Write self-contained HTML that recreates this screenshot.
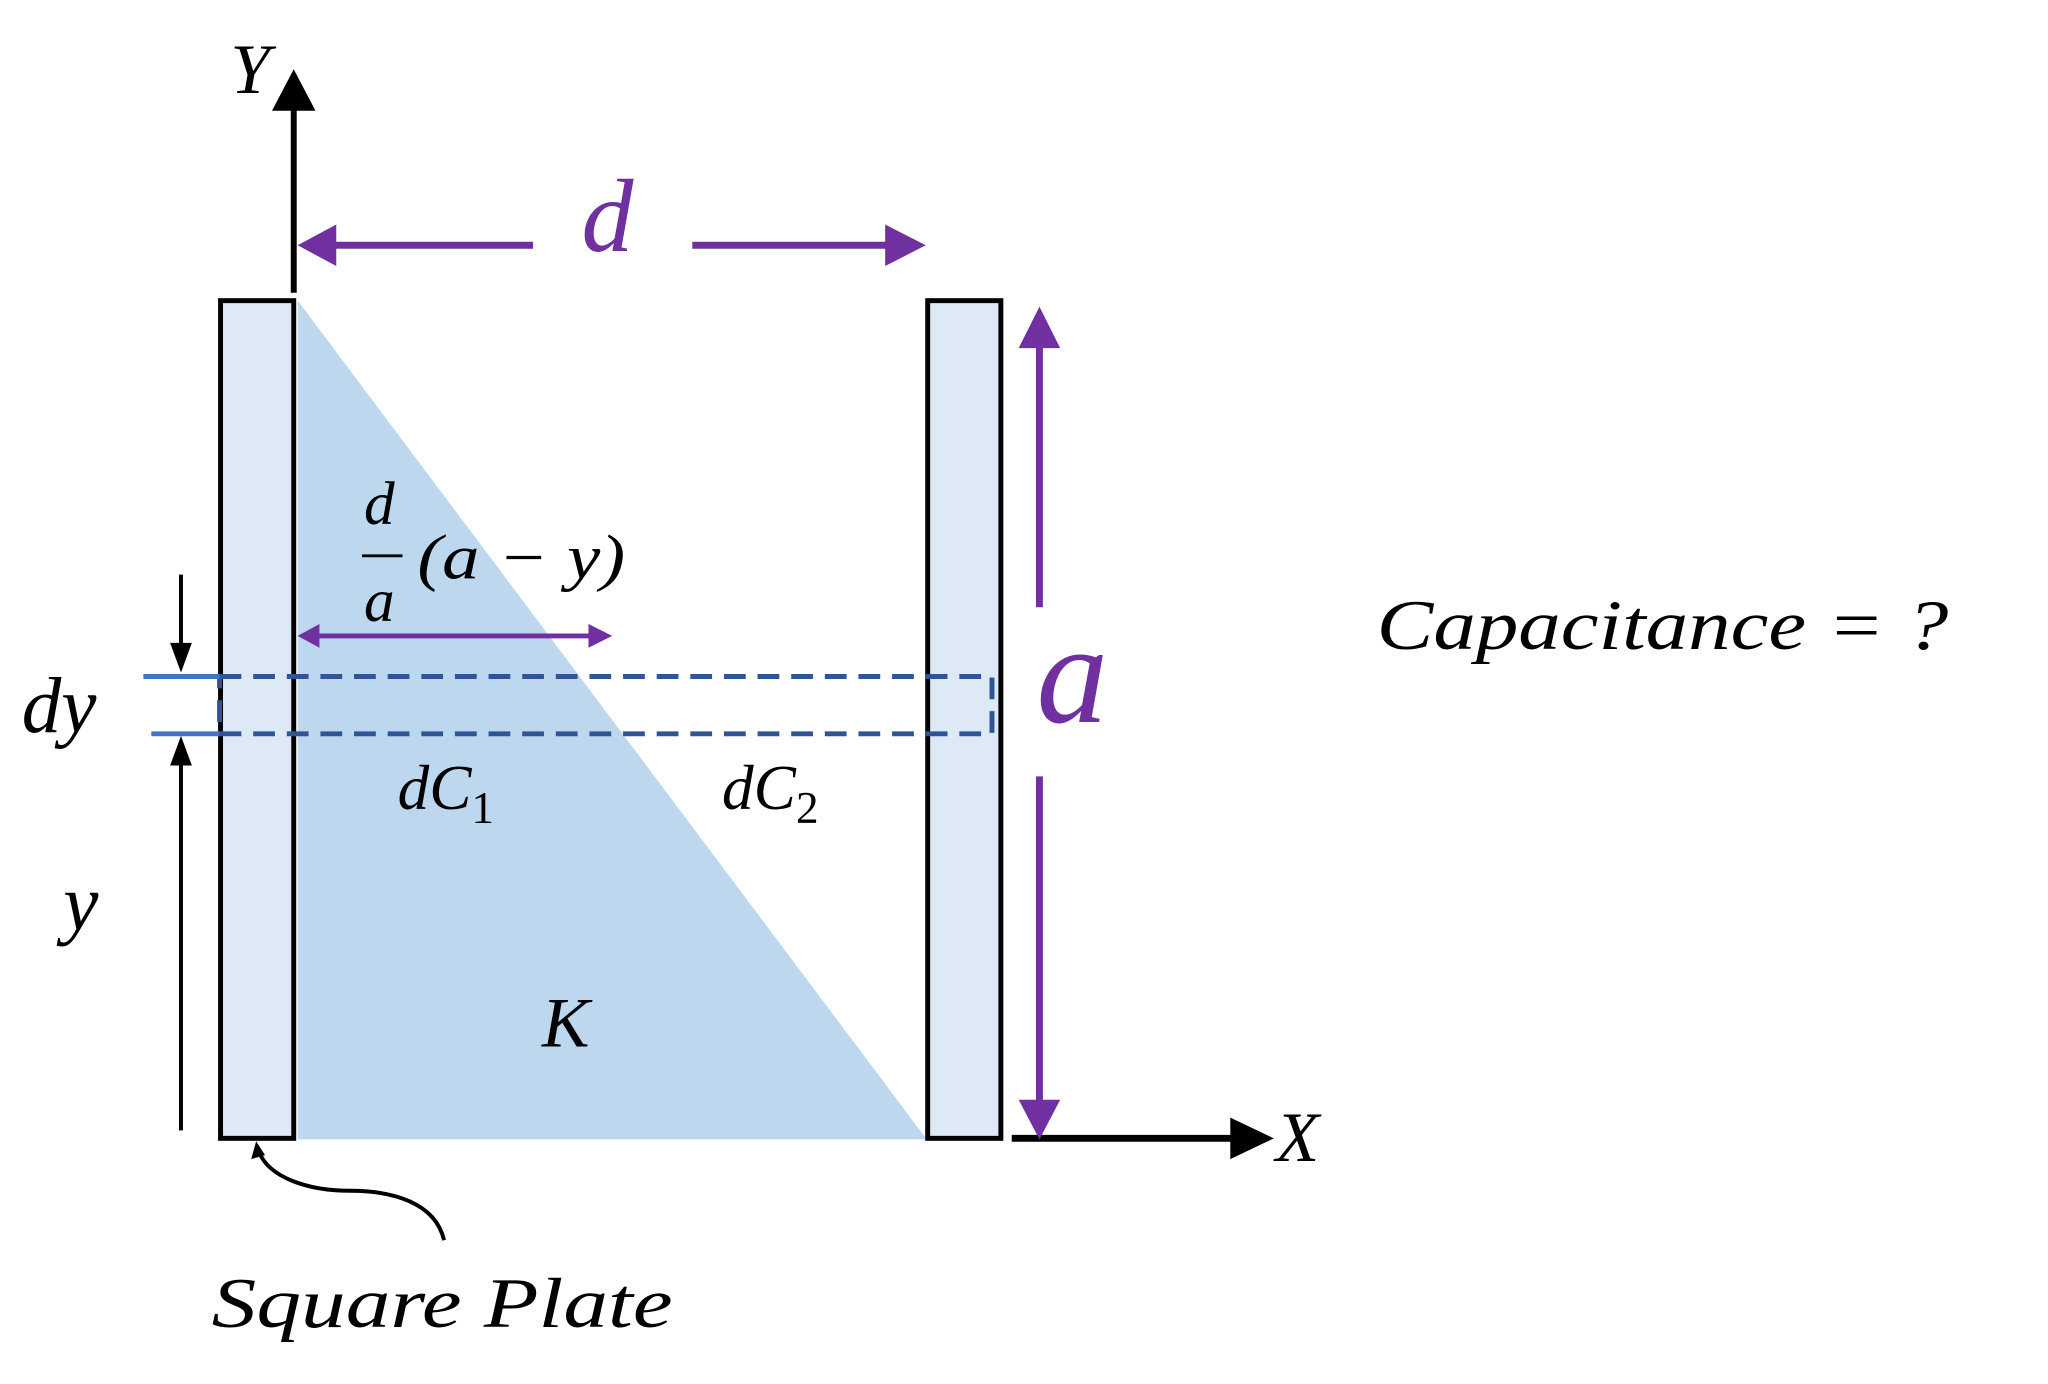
<!DOCTYPE html>
<html><head><meta charset="utf-8"><style>
html,body{margin:0;padding:0;background:#fff}
svg{display:block}
text{font-family:"Liberation Serif",serif;font-style:italic}
</style></head><body>
<svg width="2048" height="1384" viewBox="0 0 2048 1384" xmlns="http://www.w3.org/2000/svg">
<g transform="scale(0.989)">
<polygon points="301,304 301,1152 937,1152" fill="#bdd7ee"/>
<rect x="223" y="304" width="74" height="847" fill="#dde9f5" stroke="#000" stroke-width="5"/>
<rect x="938" y="304" width="74" height="847" fill="#dde9f5" stroke="#000" stroke-width="5"/>
<line x1="297" y1="296" x2="297" y2="108" stroke="#000" stroke-width="6"/>
<polygon points="297,70 275,112 319,112" fill="#000"/>
<text x="233" y="94" font-size="72">Y</text>
<line x1="1023" y1="1151" x2="1250" y2="1151" stroke="#000" stroke-width="7"/>
<polygon points="1288,1151 1244,1130 1244,1172" fill="#000"/>
<text x="1290" y="1174" font-size="72">X</text>
<line x1="335" y1="248" x2="539" y2="248" stroke="#7030a0" stroke-width="7"/>
<polygon points="301,248 340,227 340,269" fill="#7030a0"/>
<line x1="700" y1="248" x2="900" y2="248" stroke="#7030a0" stroke-width="7"/>
<polygon points="936,248 895,227 895,269" fill="#7030a0"/>
<text x="588" y="254" font-size="105" fill="#7030a0">d</text>
<line x1="1051" y1="345" x2="1051" y2="614" stroke="#7030a0" stroke-width="7"/>
<polygon points="1051,310 1030,352 1072,352" fill="#7030a0"/>
<line x1="1051" y1="785" x2="1051" y2="1118" stroke="#7030a0" stroke-width="7"/>
<polygon points="1051,1152 1030,1112 1072,1112" fill="#7030a0"/>
<text x="1048" y="730" font-size="145" fill="#7030a0">a</text>
<text x="368" y="530" font-size="62">d</text>
<line x1="366" y1="562" x2="407" y2="562" stroke="#000" stroke-width="3"/>
<text x="368" y="628" font-size="62">a</text>
<text x="422" y="585" font-size="64" textLength="210" lengthAdjust="spacingAndGlyphs">(a − y)</text>
<line x1="315" y1="643" x2="600" y2="643" stroke="#7030a0" stroke-width="5"/>
<polygon points="301,643 323,631 323,655" fill="#7030a0"/>
<polygon points="619,643 595,631 595,655" fill="#7030a0"/>
<rect x="222" y="684" width="781" height="58" fill="none" stroke="#2f5597" stroke-width="5" stroke-dasharray="22,12"/>
<line x1="145" y1="684" x2="222" y2="684" stroke="#4472c4" stroke-width="5"/>
<line x1="153" y1="742" x2="222" y2="742" stroke="#4472c4" stroke-width="5"/>
<line x1="183" y1="581" x2="183" y2="660" stroke="#000" stroke-width="4"/>
<polygon points="183,680 172,650 194,650" fill="#000"/>
<line x1="183" y1="765" x2="183" y2="1143" stroke="#000" stroke-width="4"/>
<polygon points="183,744 172,774 194,774" fill="#000"/>
<text x="22" y="740" font-size="80">dy</text>
<text x="64" y="940" font-size="80">y</text>
<text x="402" y="818" font-size="64">dC<tspan font-style="normal" font-size="46" dy="14">1</tspan></text>
<text x="730" y="818" font-size="64">dC<tspan font-style="normal" font-size="46" dy="14">2</tspan></text>
<text x="548" y="1058" font-size="72">K</text>
<path d="M449,1254 C440,1215 395,1204 354,1204 C310,1204 272,1190 262,1165" fill="none" stroke="#000" stroke-width="4"/>
<polygon points="259,1154 254,1172 268,1168" fill="#000"/>
<text x="214" y="1342" font-size="72" textLength="466" lengthAdjust="spacingAndGlyphs">Square Plate</text>
<text x="1392" y="656" font-size="72" textLength="578" lengthAdjust="spacingAndGlyphs">Capacitance = ?</text>
</g>
</svg>
</body></html>
